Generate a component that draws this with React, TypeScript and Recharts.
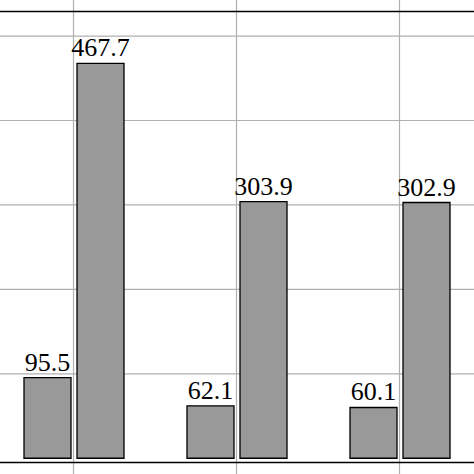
import { BarChart, Bar, XAxis, YAxis, CartesianGrid, LabelList, ReferenceLine } from "recharts"

const categories = ["A", "B", "C"]
const smallValues = [95.5, 62.1, 60.1]
const largeValues = [467.7, 303.9, 302.9]
const gridTicks = [100, 200, 300, 400, 500]

const data = categories.map((name, i) => ({
  name,
  small: smallValues[i],
  large: largeValues[i],
}))

const labelStyle = { fontFamily: "'Liberation Serif', serif", fontSize: 26, fill: "#000" }

export default function App() {
  return (
    <div style={{ position: "fixed", left: 0, top: 0, width: 474, height: 474, overflow: "hidden", background: "#fff" }}>
      <div style={{ position: "absolute", left: -8, top: -23.2 }}>
        <BarChart
          width={489}
          height={515}
          data={data}
          margin={{ top: 0, right: 0, bottom: 0, left: 0 }}
          barSize={47}
          barGap={6}
        >
          <CartesianGrid stroke="#b0b0b0" strokeWidth={1.2} />
          <XAxis dataKey="name" hide />
          <YAxis type="number" domain={[-40, 570]} ticks={gridTicks} hide />
          <ReferenceLine y={529} stroke="#000" strokeWidth={1.5} />
          <ReferenceLine y={-5} stroke="#000" strokeWidth={1.5} />
          <Bar dataKey="small" fill="#999999" stroke="#000" strokeWidth={1.3} isAnimationActive={false}>
            <LabelList dataKey="small" position="top" offset={7} style={labelStyle} />
          </Bar>
          <Bar dataKey="large" fill="#999999" stroke="#000" strokeWidth={1.3} isAnimationActive={false}>
            <LabelList dataKey="large" position="top" offset={7} style={labelStyle} />
          </Bar>
        </BarChart>
      </div>
    </div>
  )
}
